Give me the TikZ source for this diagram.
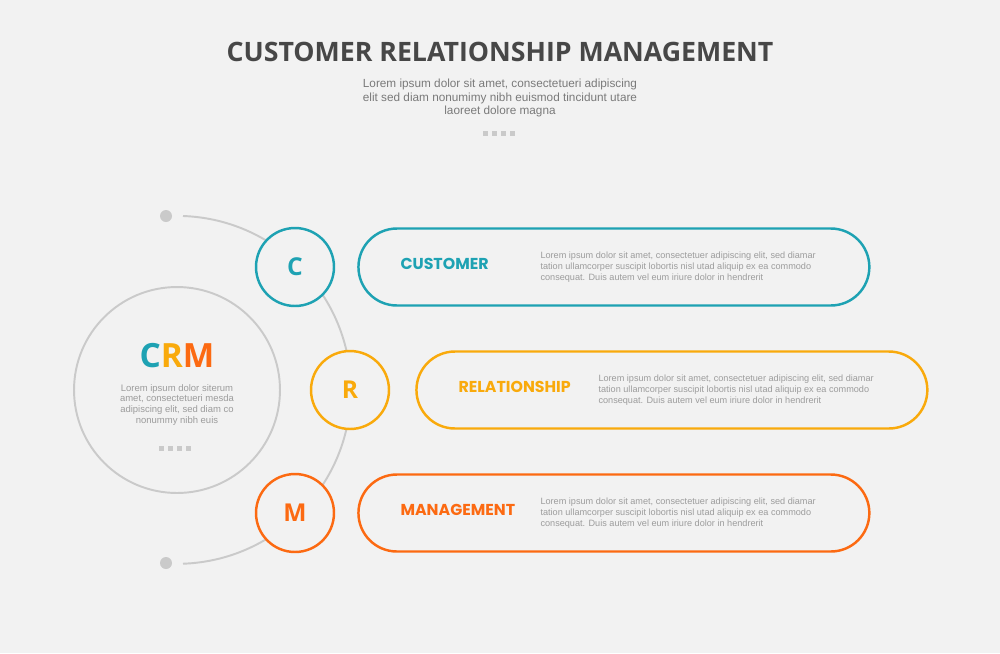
\documentclass[tikz,border=0pt]{standalone}
\usepackage{fontspec}
\setmainfont{Liberation Sans}
\newfontfamily\headfont{Open Sans}
\newfontfamily\labelfont{Poppins}
\usetikzlibrary{positioning}
\definecolor{crmteal}{HTML}{1EA2B3}
\definecolor{crmgold}{HTML}{F9AA0C}
\definecolor{crmorange}{HTML}{FC6A12}
\definecolor{crmgray}{HTML}{CACACA}
\definecolor{crmbg}{HTML}{F2F2F2}
\definecolor{crmtext}{HTML}{9C9C9C}
\definecolor{crmsub}{HTML}{7A7A7A}
\definecolor{crmtitle}{HTML}{474747}

\begin{document}
\begin{tikzpicture}[
  x=0.02cm, y=-0.02cm,
  node distance=0.44cm,
  letter/.style={circle, draw=#1, line width=1.4pt, fill=crmbg,
                 minimum size=1.56cm, inner sep=0pt, text=#1,
                 font=\headfont\bfseries\fontsize{14}{14}\selectfont},
  pill/.style={rectangle, draw=#1, line width=1.4pt, rounded corners=0.77cm,
               minimum width=10.22cm, minimum height=1.54cm},
  tag/.style={anchor=west, inner sep=0pt, text=#1,
              font=\labelfont\bfseries\fontsize{9}{9}\selectfont},
  body/.style={anchor=west, inner sep=0pt, align=left, text=crmtext,
               font=\fontsize{5.2}{6.24}\selectfont},
  enddot/.style={circle, fill=crmgray, minimum size=0.24cm, inner sep=0pt},
]
\fill[crmbg] (0,0) rectangle (1000,653);

% Heading
\node[text=crmtitle, font=\headfont\bfseries\fontsize{15.2}{15.2}\selectfont] (title) at (500,52)
  {CUSTOMER RELATIONSHIP MANAGEMENT};
\node[text=crmsub, align=center, font=\fontsize{6.7}{7.9}\selectfont] (subtitle) at (500,98)
  {Lorem ipsum dolor sit amet, consectetueri adipiscing\\
   elit sed diam nonumimy nibh euismod tincidunt utare\\
   laoreet dolore magna};
\foreach \i in {0,...,3}
  \fill[crmgray] (483+\i*9,131) rectangle ++(5,5);

% Hub
\node[circle, draw=crmgray, line width=1.1pt, minimum size=4.12cm] (hub) at (177,390) {};
\node[font=\headfont\bfseries\fontsize{19}{19}\selectfont] (crm) at (177,356)
  {\textcolor{crmteal}{C}\textcolor{crmgold}{R}\textcolor{crmorange}{M}};
\node[text=crmtext, align=center, font=\fontsize{5.4}{6.24}\selectfont] (hubtext) at (177,405)
  {Lorem ipsum dolor siterum\\amet, consectetueri mesda\\adipiscing elit, sed diam co\\nonummy nibh euis};
\foreach \i in {0,...,3}
  \fill[crmgray] (159+\i*9,446) rectangle ++(5,5);

% Arc
\node[enddot] (dottop) at (166,216) {};
\node[enddot] (dotbot) at (166,563) {};
\coordinate (arcstart) at (183,216);
\draw[crmgray, line width=1.1pt] (arcstart) arc[start angle=88, end angle=-88, radius=3.48cm];

% Letters
\node[letter=crmteal] (c) at (295,267) {C};
\node[letter=crmgold] (r) at (350,390) {R};
\node[letter=crmorange] (m) at (295,513) {M};

% Pills
\node[pill=crmteal, right=of c] (custpill) {};
\node[pill=crmgold, right=0.5cm of r] (relpill) {};
\node[pill=crmorange, right=of m] (mgmtpill) {};

\node[tag=crmteal] (custlabel) at ([xshift=0.86cm,yshift=0.06cm]custpill.west) {CUSTOMER};
\node[tag=crmgold] (rellabel) at ([xshift=0.86cm,yshift=0.06cm]relpill.west) {RELATIONSHIP};
\node[tag=crmorange] (mgmtlabel) at ([xshift=0.86cm,yshift=0.06cm]mgmtpill.west) {MANAGEMENT};

\node[body] (custtext) at ([xshift=3.66cm]custpill.west)
  {Lorem ipsum dolor sit amet, consectetuer adipiscing elit, sed diamar\\
   tation ullamcorper suscipit lobortis nisl utad aliquip ex ea commodo\\
   consequat. Duis autem vel eum iriure dolor in hendrerit};
\node[body] (reltext) at ([xshift=3.66cm]relpill.west)
  {Lorem ipsum dolor sit amet, consectetuer adipiscing elit, sed diamar\\
   tation ullamcorper suscipit lobortis nisl utad aliquip ex ea commodo\\
   consequat. Duis autem vel eum iriure dolor in hendrerit};
\node[body] (mgmttext) at ([xshift=3.66cm]mgmtpill.west)
  {Lorem ipsum dolor sit amet, consectetuer adipiscing elit, sed diamar\\
   tation ullamcorper suscipit lobortis nisl utad aliquip ex ea commodo\\
   consequat. Duis autem vel eum iriure dolor in hendrerit};
\end{tikzpicture}
\end{document}
